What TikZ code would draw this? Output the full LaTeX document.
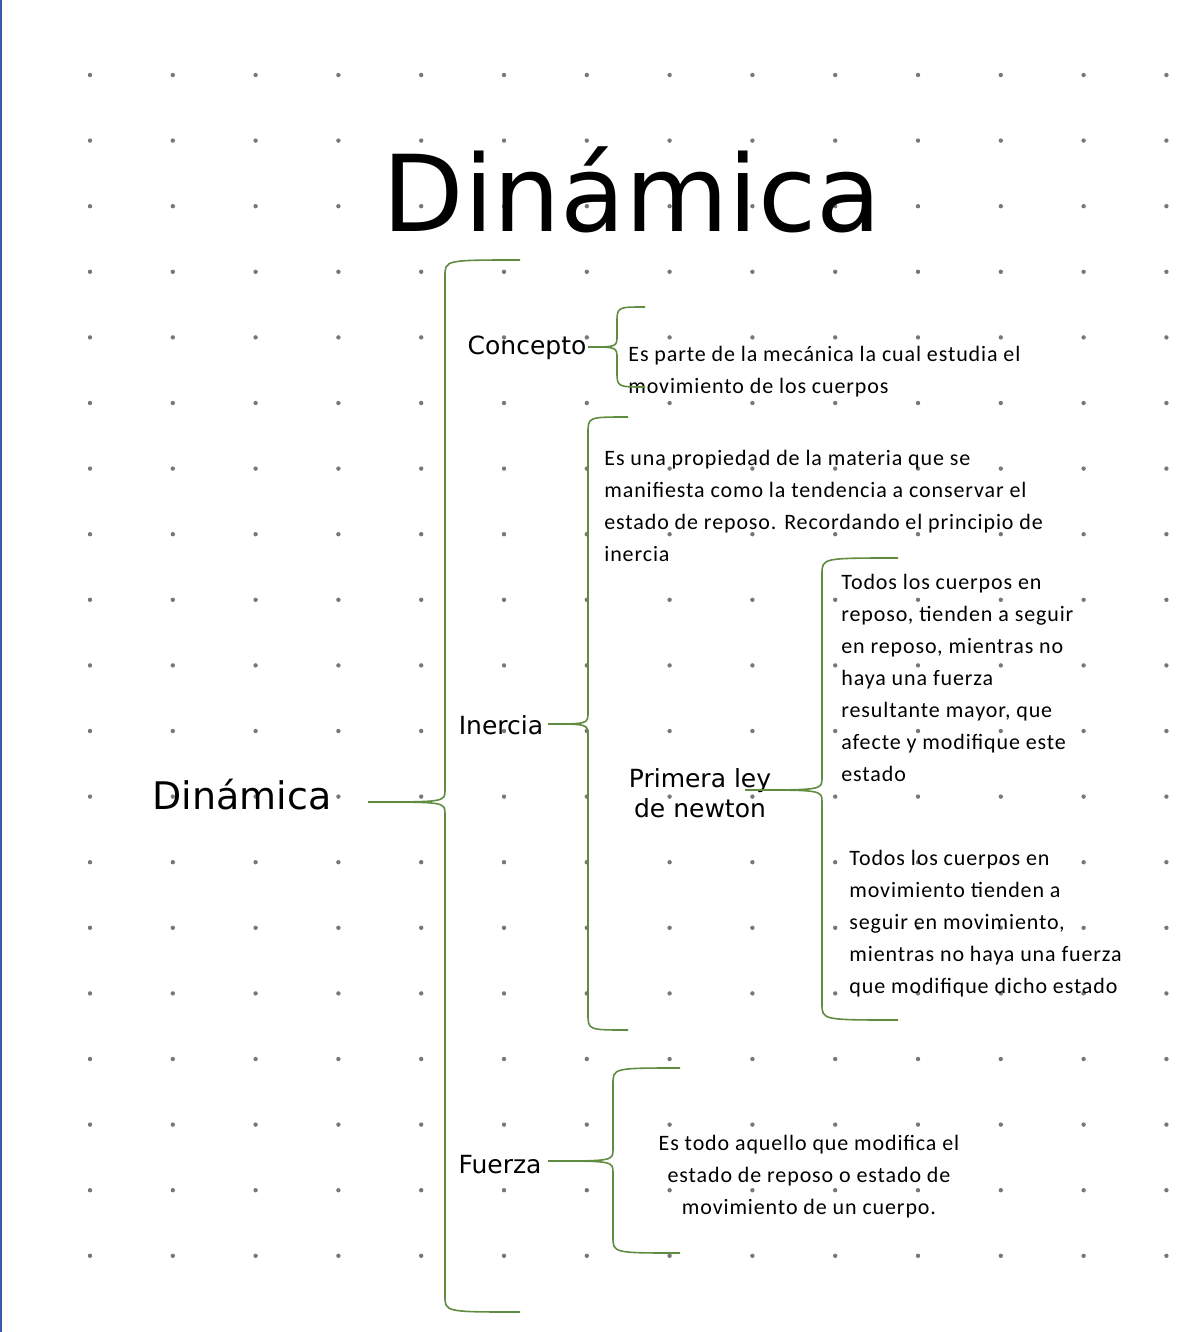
\documentclass[tikz,border=0pt]{standalone}
\usepackage{fontspec}
\setmainfont{DejaVu Sans}
\newfontfamily\cuerpo[LetterSpace=4]{Carlito}
\usetikzlibrary{positioning}
\definecolor{verde}{RGB}{96,140,66}
\definecolor{puntos}{RGB}{120,120,120}
\definecolor{borde}{RGB}{60,90,170}

% llave: tip x, tip y, spine x, top, bottom, end x
\newcommand{\llave}[6]{%
  \draw[verde,thick] (#6,#4) .. controls (#3,#4) .. (#3,#4+16) -- (#3,#2-12)
    .. controls (#3,#2) .. (#1,#2) .. controls (#3,#2) .. (#3,#2+12)
    -- (#3,#5-16) .. controls (#3,#5) .. (#6,#5);}

\begin{document}
\begin{tikzpicture}[
  x=0.5pt, y=-0.5pt,
  etiqueta/.style = {font=\fontsize{12.5}{15}\selectfont, inner sep=0pt, align=center},
  texto/.style = {font=\cuerpo\fontsize{11}{16}\selectfont, inner sep=0pt, align=left, anchor=north west},
  ]
  \useasboundingbox (0,0) rectangle (1200,1332);
  \draw[borde,line width=1pt] (1,0) -- (1,1332);

  % grid of dots
  \foreach \i in {0,...,13}
    \foreach \j in {0,...,18}
      \fill[puntos] (90+82.8*\i,75+65.6*\j) circle (1.1pt);

  \node[font=\fontsize{53}{58}\selectfont, inner sep=0pt] (titulo) at (632,190) {Dinámica};
  \node[font=\fontsize{19}{22}\selectfont, inner sep=0pt] (dinamica) at (242,795) {Dinámica};

  \node[etiqueta] (concepto) at (527,348) {Concepto};
  \node[etiqueta] (inercia) at (501,725) {Inercia};
  \node[etiqueta] (fuerza) at (500,1165) {Fuerza};
  \node[etiqueta] (primera) at (700,793) {Primera ley\\de newton};

  \node[texto] (defconcepto) at (628,346) {Es parte de la mecánica la cual estudia el\\movimiento de los cuerpos};
  \node[texto] (definercia) at (604,450) {Es una propiedad de la materia que se\\manifiesta como la tendencia a conservar el\\estado de reposo. Recordando el principio de\\inercia};
  \node[texto] (reposo) at (841,574) {Todos los cuerpos en\\reposo, tienden a seguir\\en reposo, mientras no\\haya una fuerza\\resultante mayor, que\\afecte y modifique este\\estado};
  \node[texto] (movimiento) at (849,850) {Todos los cuerpos en\\movimiento tienden a\\seguir en movimiento,\\mientras no haya una fuerza\\que modifique dicho estado};
  \node[texto, anchor=north, align=center] (deffuerza) at (809,1135) {Es todo aquello que modifica el\\estado de reposo o estado de\\movimiento de un cuerpo.};

  \llave{368}{802}{445}{260}{1312}{520}
  \llave{588}{347}{617}{307}{387}{645}
  \llave{548}{724}{588}{417}{1030}{628}
  \llave{745}{790}{822}{558}{1020}{898}
  \llave{548}{1161}{613}{1068}{1253}{680}
\end{tikzpicture}
\end{document}
